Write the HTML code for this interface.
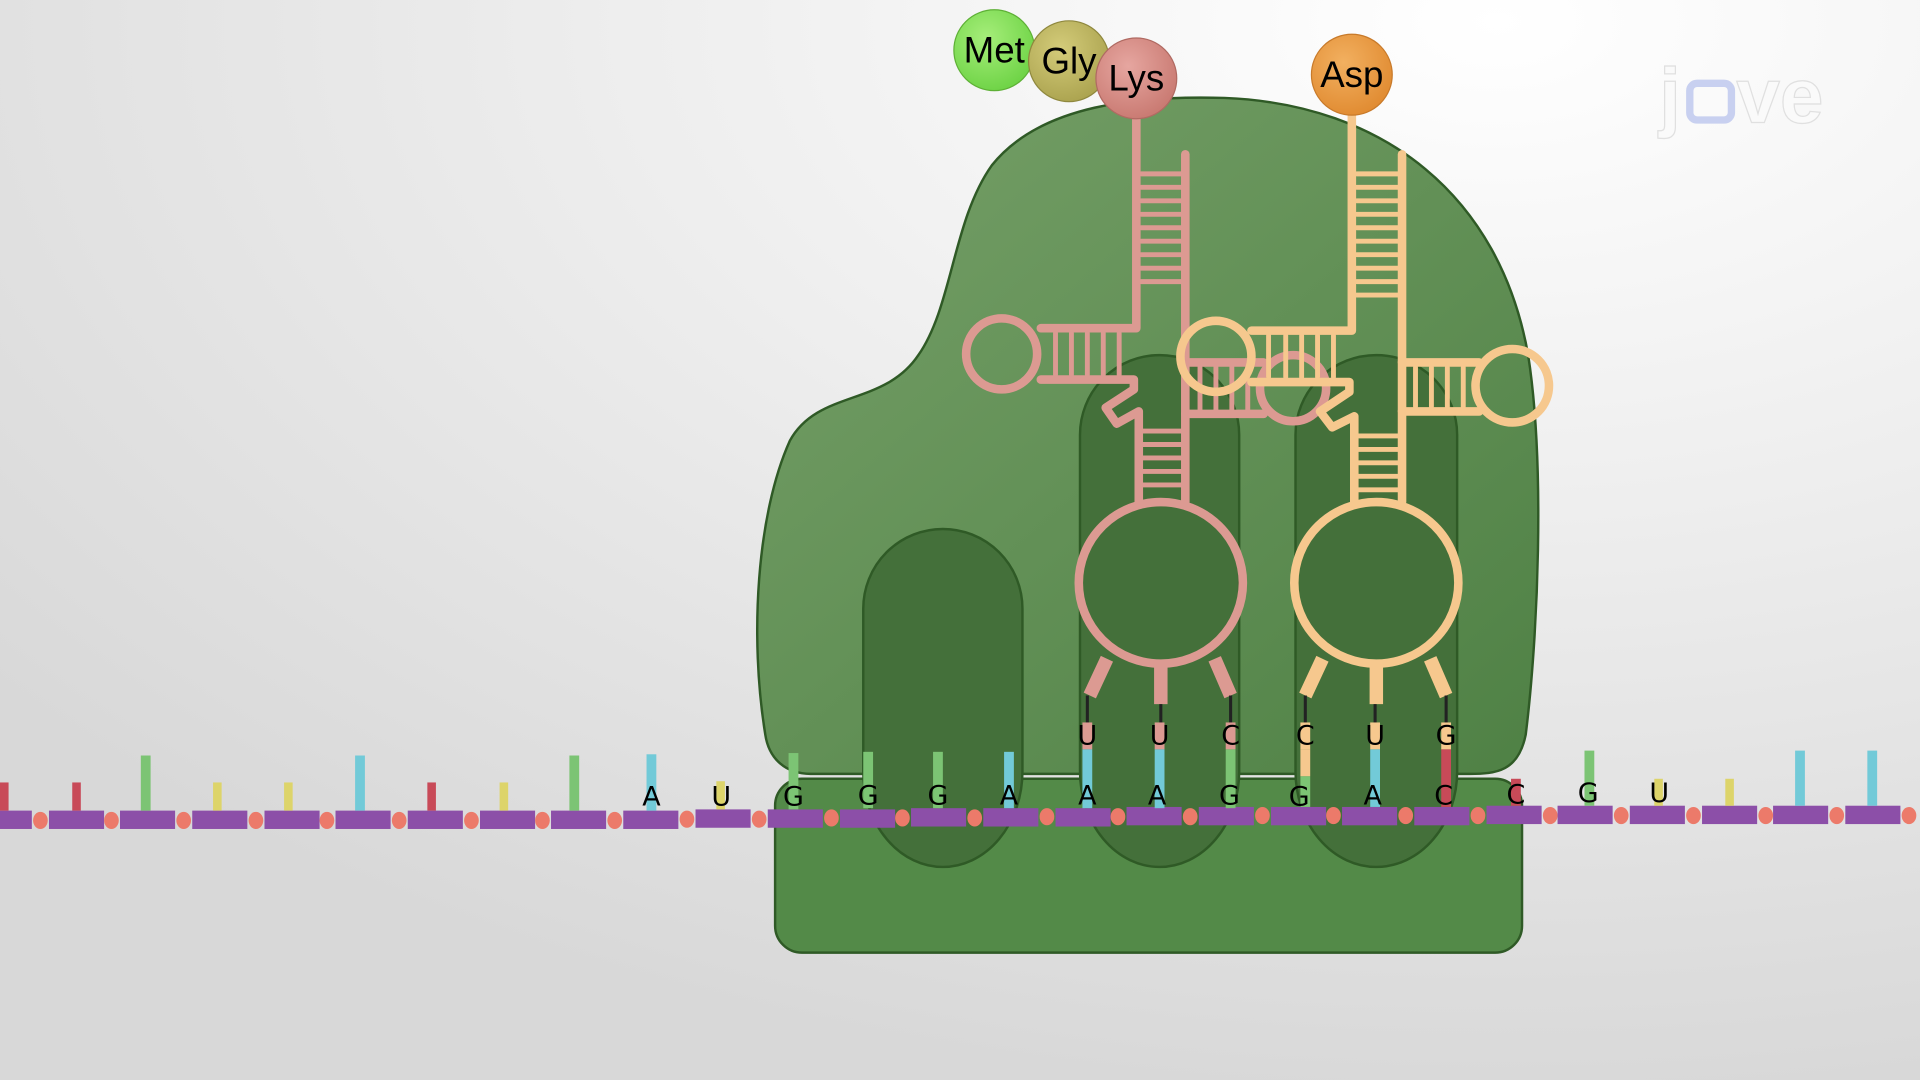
<!DOCTYPE html>
<html><head><meta charset="utf-8"><style>
html,body{margin:0;padding:0;width:1920px;height:1080px;overflow:hidden;background:#e4e4e4}
svg{display:block}
</style></head><body>
<svg width="1920" height="1080" viewBox="0 0 1568 882" xmlns="http://www.w3.org/2000/svg">
<defs>
<radialGradient id="bg" cx="0.78" cy="0.02" r="1.0">
<stop offset="0" stop-color="#ffffff"/><stop offset="0.45" stop-color="#eeeeee"/><stop offset="1" stop-color="#d8d8d8"/>
</radialGradient>
<linearGradient id="gl" x1="0" y1="0" x2="1" y2="1">
<stop offset="0" stop-color="#76a068"/><stop offset="1" stop-color="#4f8145"/>
</linearGradient>
<radialGradient id="bMet" cx="0.4" cy="0.35" r="0.7"><stop offset="0" stop-color="#a6ee7a"/><stop offset="1" stop-color="#6cd244"/></radialGradient>
<radialGradient id="bGly" cx="0.4" cy="0.35" r="0.7"><stop offset="0" stop-color="#d4cc7a"/><stop offset="1" stop-color="#aaa24e"/></radialGradient>
<radialGradient id="bLys" cx="0.4" cy="0.35" r="0.7"><stop offset="0" stop-color="#e6a6a0"/><stop offset="1" stop-color="#c87870"/></radialGradient>
<radialGradient id="bAsp" cx="0.4" cy="0.35" r="0.7"><stop offset="0" stop-color="#f2b060"/><stop offset="1" stop-color="#e08a30"/></radialGradient>
</defs>
<rect width="1568" height="882" fill="url(#bg)"/>
<!-- jove logo -->
<text x="1355" y="100" font-family="Liberation Sans, sans-serif" font-size="64" font-weight="bold" fill="#fafafa" stroke="#e0e0e0" stroke-width="1">j</text>
<rect x="1380" y="68" width="34" height="30" rx="6" fill="none" stroke="#c8d0f0" stroke-width="6"/>
<text x="1418" y="100" font-family="Liberation Sans, sans-serif" font-size="64" font-weight="bold" fill="#fafafa" stroke="#e0e0e0" stroke-width="1">ve</text>

<!-- small subunit -->
<rect x="633" y="636" width="610" height="142" rx="22" fill="#538a48" stroke="#2f5a26" stroke-width="2"/>
<!-- large subunit -->
<path d="M625,600 C612,520 618,420 645,360 C668,318 722,332 750,290 C778,250 778,180 810,135 C850,85 930,78 1000,80 C1130,85 1225,160 1248,290 C1262,380 1256,520 1246,600 C1240,630 1222,632 1200,632 L662,632 C642,632 628,620 625,600 Z" fill="url(#gl)" stroke="#2f5a26" stroke-width="2"/>
<!-- channels -->
<g fill="#44703a" stroke="#2f5a26" stroke-width="2">
<path d="M705,630 L705,497 A65,65 0 0 1 835,497 L835,630 A65,78 0 0 1 705,630 Z"/>
<path d="M882,630 L882,355 A65,65 0 0 1 1012,355 L1012,630 A65,78 0 0 1 882,630 Z"/>
<path d="M1058,630 L1058,355 A66,65 0 0 1 1190,355 L1190,630 A66,78 0 0 1 1058,630 Z"/>
</g>

<!-- Lys tRNA (pink) -->
<g fill="none" stroke="#dc9a92" stroke-width="7" stroke-linejoin="round" stroke-linecap="round">
<path d="M968,296 L1032,296 M968,338 L1032,338"/>
<circle cx="1056" cy="317" r="27"/>
<path d="M980,298 V336 M993,298 V336 M1006,298 V336 M1019,298 V336" stroke-width="4"/>
<path d="M928,97 V268 H850"/>
<path d="M968,126 V410"/>
<path d="M932,142 H966 M932,153 H966 M932,164 H966 M932,175 H966 M932,186 H966 M932,197 H966 M932,208 H966 M932,219 H966 M932,230 H966" stroke-width="4"/>
<circle cx="818" cy="289" r="29"/>
<path d="M850,310 H926 L926,318 L903,333 L912,346 L930,336 V410"/>
<path d="M862,272 V306 M875,272 V306 M888,272 V306 M901,272 V306 M914,272 V306" stroke-width="4"/>
<path d="M932,352 H966 M932,363 H966 M932,374 H966 M932,385 H966 M932,396 H966" stroke-width="4"/>
<ellipse cx="948" cy="476" rx="67" ry="66"/>
<path d="M904,538 L890,568 M948,544 V575 M992,538 L1005,568" stroke-width="11" stroke-linecap="butt"/>
</g>

<!-- Asp tRNA (orange) -->
<g fill="none" stroke="#f6c88e" stroke-width="7" stroke-linejoin="round" stroke-linecap="round">
<path d="M1104,95 V270 H1022"/>
<path d="M1145,126 V410"/>
<path d="M1108,142 H1142 M1108,153 H1142 M1108,164 H1142 M1108,175 H1142 M1108,186 H1142 M1108,197 H1142 M1108,208 H1142 M1108,219 H1142 M1108,230 H1142 M1108,241 H1142" stroke-width="4"/>
<circle cx="993" cy="291" r="29"/>
<path d="M1022,312 H1102 L1102,320 L1078,336 L1088,349 L1106,340 V410"/>
<path d="M1036,274 V308 M1050,274 V308 M1063,274 V308 M1076,274 V308 M1089,274 V308" stroke-width="4"/>
<path d="M1145,296 H1208 M1145,336 H1208"/>
<circle cx="1235" cy="315" r="30"/>
<path d="M1156,300 V332 M1169,300 V332 M1182,300 V332 M1195,300 V332" stroke-width="4"/>
<path d="M1109,356 H1142 M1109,367 H1142 M1109,378 H1142 M1109,389 H1142 M1109,400 H1142" stroke-width="4"/>
<ellipse cx="1124" cy="476" rx="67" ry="66"/>
<path d="M1080,538 L1066,568 M1124,544 V575 M1168,538 L1181,568" stroke-width="11" stroke-linecap="butt"/>
</g>

<g stroke="#222" stroke-width="2.5">
<path d="M888,568 V592 M948,575 V592 M1005,568 V592 M1066,568 V592 M1123,575 V592 M1181,568 V592"/>
</g>
<g>
<rect x="884" y="590" width="8" height="22" fill="#dc9a92"/>
<rect x="943" y="590" width="8" height="22" fill="#dc9a92"/>
<rect x="1001" y="590" width="8" height="22" fill="#dc9a92"/>
<rect x="1062" y="590" width="8" height="22" fill="#f6c88e"/>
<rect x="1119" y="590" width="8" height="22" fill="#f6c88e"/>
<rect x="1177" y="590" width="8" height="22" fill="#f6c88e"/>
</g>

<!-- mRNA backbone -->
<g fill="#8c4fa8">
<rect x="-19" y="662" width="45" height="15"/><rect x="40" y="662" width="45" height="15"/><rect x="98" y="662" width="45" height="15"/><rect x="157" y="662" width="45" height="15"/><rect x="216" y="662" width="45" height="15"/><rect x="274" y="662" width="45" height="15"/><rect x="333" y="662" width="45" height="15"/><rect x="392" y="662" width="45" height="15"/><rect x="450" y="662" width="45" height="15"/><rect x="509" y="662" width="45" height="15"/><rect x="568" y="661" width="45" height="15"/><rect x="627" y="661" width="45" height="15"/><rect x="686" y="661" width="45" height="15"/><rect x="744" y="660" width="45" height="15"/><rect x="803" y="660" width="45" height="15"/><rect x="862" y="660" width="45" height="15"/><rect x="920" y="659" width="45" height="15"/><rect x="979" y="659" width="45" height="15"/><rect x="1038" y="659" width="45" height="15"/><rect x="1096" y="659" width="45" height="15"/><rect x="1155" y="659" width="45" height="15"/><rect x="1214" y="658" width="45" height="15"/><rect x="1272" y="658" width="45" height="15"/><rect x="1331" y="658" width="45" height="15"/><rect x="1390" y="658" width="45" height="15"/><rect x="1448" y="658" width="45" height="15"/><rect x="1507" y="658" width="45" height="15"/>
</g>
<g fill="#ec7a6a">
<ellipse cx="33" cy="670" rx="6" ry="7"/><ellipse cx="91" cy="670" rx="6" ry="7"/><ellipse cx="150" cy="670" rx="6" ry="7"/><ellipse cx="209" cy="670" rx="6" ry="7"/><ellipse cx="267" cy="670" rx="6" ry="7"/><ellipse cx="326" cy="670" rx="6" ry="7"/><ellipse cx="385" cy="670" rx="6" ry="7"/><ellipse cx="443" cy="670" rx="6" ry="7"/><ellipse cx="502" cy="670" rx="6" ry="7"/><ellipse cx="561" cy="669" rx="6" ry="7"/><ellipse cx="620" cy="669" rx="6" ry="7"/><ellipse cx="679" cy="668" rx="6" ry="7"/><ellipse cx="737" cy="668" rx="6" ry="7"/><ellipse cx="796" cy="668" rx="6" ry="7"/><ellipse cx="855" cy="667" rx="6" ry="7"/><ellipse cx="913" cy="667" rx="6" ry="7"/><ellipse cx="972" cy="667" rx="6" ry="7"/><ellipse cx="1031" cy="666" rx="6" ry="7"/><ellipse cx="1089" cy="666" rx="6" ry="7"/><ellipse cx="1148" cy="666" rx="6" ry="7"/><ellipse cx="1207" cy="666" rx="6" ry="7"/><ellipse cx="1266" cy="666" rx="6" ry="7"/><ellipse cx="1324" cy="666" rx="6" ry="7"/><ellipse cx="1383" cy="666" rx="6" ry="7"/><ellipse cx="1442" cy="666" rx="6" ry="7"/><ellipse cx="1500" cy="666" rx="6" ry="7"/><ellipse cx="1559" cy="666" rx="6" ry="7"/>
</g>
<g>
<rect x="0" y="639" width="7" height="23" fill="#c84a58"/>
<rect x="59" y="639" width="7" height="23" fill="#c84a58"/>
<rect x="115" y="617" width="8" height="45" fill="#7cc474"/>
<rect x="174" y="639" width="7" height="23" fill="#ddd46a"/>
<rect x="232" y="639" width="7" height="23" fill="#ddd46a"/>
<rect x="290" y="617" width="8" height="45" fill="#72cad8"/>
<rect x="349" y="639" width="7" height="23" fill="#c84a58"/>
<rect x="408" y="639" width="7" height="23" fill="#ddd46a"/>
<rect x="465" y="617" width="8" height="45" fill="#7cc474"/>
<rect x="528" y="616" width="8" height="46" fill="#72cad8"/>
<rect x="585" y="638" width="7" height="23" fill="#ddd46a"/>
<rect x="644" y="615" width="8" height="46" fill="#7cc474"/>
<rect x="705" y="614" width="8" height="46" fill="#7cc474"/>
<rect x="762" y="614" width="8" height="46" fill="#7cc474"/>
<rect x="820" y="614" width="8" height="46" fill="#72cad8"/>
<rect x="884" y="612" width="8" height="48" fill="#72cad8"/>
<rect x="943" y="612" width="8" height="48" fill="#72cad8"/>
<rect x="1001" y="612" width="8" height="48" fill="#7cc474"/>
<rect x="1062" y="612" width="8" height="22" fill="#f6c88e"/>
<rect x="1062" y="634" width="8" height="25" fill="#7cc474"/>
<rect x="1119" y="612" width="8" height="47" fill="#72cad8"/>
<rect x="1177" y="612" width="8" height="47" fill="#c84a58"/>
<rect x="1234" y="636" width="8" height="22" fill="#c84a58"/>
<rect x="1294" y="613" width="8" height="45" fill="#7cc474"/>
<rect x="1351" y="636" width="7" height="22" fill="#ddd46a"/>
<rect x="1409" y="636" width="7" height="22" fill="#ddd46a"/>
<rect x="1466" y="613" width="8" height="45" fill="#72cad8"/>
<rect x="1525" y="613" width="8" height="45" fill="#72cad8"/>
</g>
<g font-family="DejaVu Sans, Liberation Sans, sans-serif" font-size="22" fill="#000" text-anchor="middle">
<text x="532" y="658">A</text><text x="589" y="658">U</text><text x="648" y="658">G</text><text x="709" y="657">G</text><text x="766" y="657">G</text><text x="824" y="657">A</text><text x="888" y="657">A</text><text x="945" y="657">A</text><text x="1004" y="657">G</text><text x="1061" y="658">G</text><text x="1121" y="657">A</text><text x="1179" y="657">C</text><text x="1238" y="656">C</text><text x="1297" y="655">G</text><text x="1355" y="655">U</text>
<text x="888" y="608">U</text><text x="947" y="608">U</text><text x="1005" y="608">C</text><text x="1066" y="608">C</text><text x="1123" y="608">U</text><text x="1181" y="608">G</text>
</g>

<g font-family="Liberation Sans, sans-serif" font-size="30" fill="#000" text-anchor="middle">
<circle cx="812" cy="41" r="33" fill="url(#bMet)" stroke="#5eb036" stroke-width="1"/>
<text x="812" y="51">Met</text>
<circle cx="873" cy="50" r="33" fill="url(#bGly)" stroke="#8f883e" stroke-width="1"/>
<text x="873" y="60">Gly</text>
<circle cx="928" cy="64" r="33" fill="url(#bLys)" stroke="#b06a62" stroke-width="1"/>
<text x="928" y="74">Lys</text>
<circle cx="1104" cy="61" r="33" fill="url(#bAsp)" stroke="#c87a2a" stroke-width="1"/>
<text x="1104" y="71">Asp</text>
</g>
</svg>
</body></html>
